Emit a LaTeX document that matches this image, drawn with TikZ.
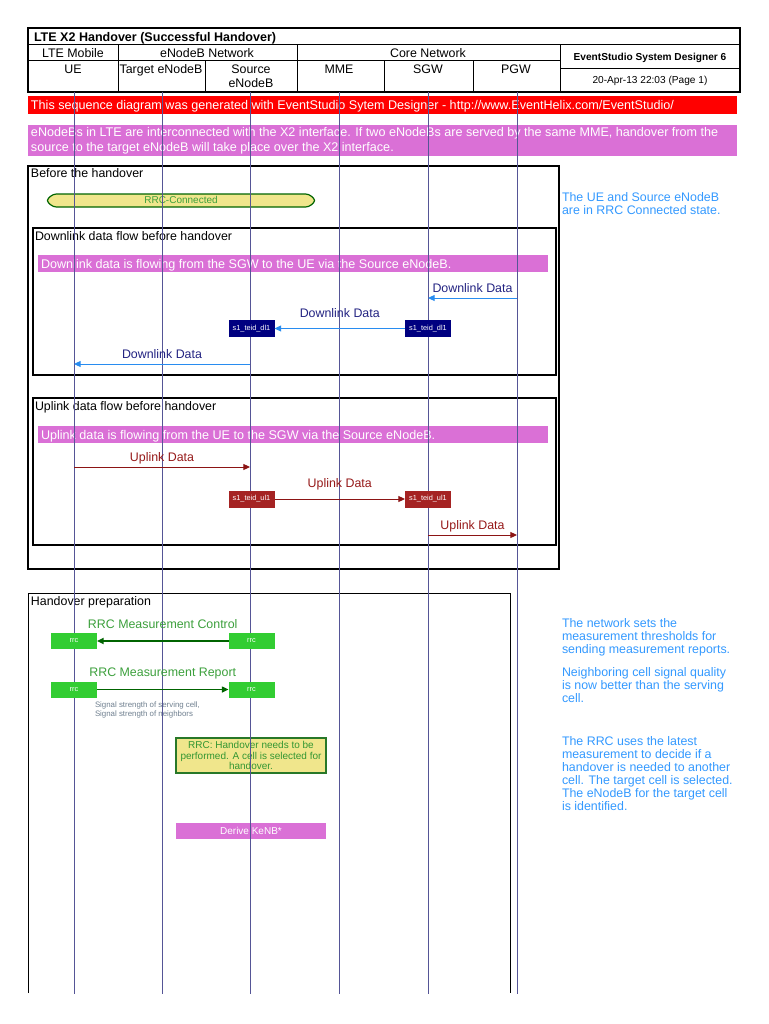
\documentclass[tikz,border=0pt]{standalone}
\usepackage{fontspec}
\setmainfont{Liberation Sans}
\usetikzlibrary{arrows.meta}
\definecolor{lifeln}{RGB}{85,85,150}
\definecolor{orch}{RGB}{218,112,214}
\definecolor{notebl}{RGB}{51,153,255}
\definecolor{dlline}{RGB}{40,140,240}
\definecolor{dllab}{RGB}{35,35,130}
\definecolor{dlbox}{RGB}{0,0,128}
\definecolor{ulline}{RGB}{140,20,20}
\definecolor{ullab}{RGB}{150,25,25}
\definecolor{ulbox}{RGB}{165,35,35}
\definecolor{rrcbox}{RGB}{50,205,50}
\definecolor{rrcline}{RGB}{0,100,0}
\definecolor{rrclab}{RGB}{60,160,60}
\definecolor{khak}{RGB}{240,230,140}
\definecolor{actborder}{RGB}{40,120,40}
\definecolor{acttext}{RGB}{50,150,50}
\definecolor{greytxt}{RGB}{112,128,144}
\begin{document}
\begin{tikzpicture}[x=0.75pt,y=-0.75pt,
  every node/.style={inner sep=0pt,outer sep=0pt},
  txt/.style={font=\fontsize{9.3}{9.75}\selectfont},
  hdr/.style={txt,anchor=base},
  note/.style={txt,text=notebl,align=left,anchor=north west},
  sectitle/.style={txt,anchor=base west},
  secbox/.style={draw=black,line width=1.5pt},
  lifeline/.style={draw=lifeln,line width=0.65pt},
  bannertxt/.style={font=\fontsize{9.45}{9.75}\selectfont,text=white,anchor=base west},
  dlmsg/.style={draw=dlline,line width=0.75pt,-{Triangle[length=5pt,width=4.5pt]}},
  ulmsg/.style={draw=ulline,line width=0.75pt,-{Triangle[length=5pt,width=4.5pt]}},
  rrcmsg/.style={draw=rrcline,line width=1pt,-{Triangle[length=5pt,width=4.5pt]}},
  dllabel/.style={txt,text=dllab,anchor=base},
  ullabel/.style={txt,text=ullab,anchor=base},
  rrclabel/.style={txt,text=rrclab,anchor=base},
  teidbox/.style={minimum width=34.5pt,minimum height=12.75pt,text=white,font=\fontsize{5.5}{6}\selectfont},
  rrcnode/.style={fill=rrcbox,minimum width=34.5pt,minimum height=12pt,text=white,font=\fontsize{5.5}{6}\selectfont},
]
\useasboundingbox (0,0) rectangle (768,1024);
\fill[white] (0,0) rectangle (768,1024);

% ---------- header table ----------
\draw[line width=0.9pt] (28,28) rectangle (740,92);
\draw[line width=0.75pt] (28,45) -- (740,45);
\draw[line width=0.75pt] (28,61) -- (560,61);
\draw[line width=0.75pt] (560,69) -- (740,69);
\draw[line width=0.75pt] (118,45) -- (118,92);
\draw[line width=0.75pt] (297,45) -- (297,92);
\draw[line width=0.75pt] (560,45) -- (560,92);
\draw[line width=0.75pt] (205,61) -- (205,92);
\draw[line width=0.75pt] (384,61) -- (384,92);
\draw[line width=0.75pt] (473,61) -- (473,92);
\node (title) [txt,anchor=base west,font=\fontsize{9.4}{10}\selectfont\bfseries] at (34,41.5) {LTE X2 Handover (Successful Handover)};
\node (grpmob) [hdr] at (73,57.5) {LTE Mobile};
\node (grpenb) [hdr] at (207,57.5) {eNodeB Network};
\node (grpcore) [hdr] at (428,57.5) {Core Network};
\node (tool) [anchor=base,font=\fontsize{7.6}{8}\selectfont\bfseries] at (650,60.5) {EventStudio System Designer 6};
\node (date) [anchor=base,font=\fontsize{7.6}{8}\selectfont] at (650,83.5) {20-Apr-13 22:03 (Page 1)};
\node (hUE) [hdr] at (73,73.5) {UE};
\node (hTgt) [hdr] at (161,73.5) {Target eNodeB};
\node (hSrc) [hdr] at (251,73.5) {Source};
\node (hSrc2) [hdr] at (251,87.5) {eNodeB};
\node (hMME) [hdr] at (339,73.5) {MME};
\node (hSGW) [hdr] at (428,73.5) {SGW};
\node (hPGW) [hdr] at (516,73.5) {PGW};

% ---------- banners ----------
\fill[red] (28,96) rectangle (737,114);
\node (redtxt) [bannertxt] at (31,109.5) {This sequence diagram was generated with EventStudio Sytem Designer - http://www.EventHelix.com/EventStudio/};
\fill[orch] (28,125) rectangle (737,156);
\node (x2txt) [bannertxt] at (31,136.5) {eNodeBs in LTE are interconnected with the X2 interface. If two eNodeBs are served by the same MME, handover from the};
\node (x2txt2) [bannertxt] at (31,151) {source to the target eNodeB will take place over the X2 interface.};

% ---------- before the handover ----------
\draw[secbox] (28,166) rectangle (559,569);
\node (sec1) [sectitle] at (31,177.5) {Before the handover};
\draw[fill=khak,draw=rrcline,line width=0.9pt,rounded corners=2.5pt]
  (46,200.5) -- (53,194) -- (309,194) -- (316,200.5) -- (309,207) -- (53,207) -- cycle;
\node (rrcconn) [anchor=base,text=rrclab,font=\fontsize{7.5}{8}\selectfont] at (181,203) {RRC-Connected};
\node (note1) [note] at (562,193) {The UE and Source eNodeB\\are in RRC Connected state.};

\draw[secbox] (33,228) rectangle (556,375);
\node (sec2) [sectitle] at (35,240.5) {Downlink data flow before handover};
\fill[orch] (38,255) rectangle (548,272);
\node (dltxt) [bannertxt] at (41,268) {Downlink data is flowing from the SGW to the UE via the Source eNodeB.};

\draw[secbox] (33,398) rectangle (556,545);
\node (sec3) [sectitle] at (35,410.5) {Uplink data flow before handover};
\fill[orch] (38,426) rectangle (548,443);
\node (ultxt) [bannertxt] at (41,439) {Uplink data is flowing from the UE to the SGW via the Source eNodeB.};

% ---------- handover preparation ----------
\draw[line width=0.75pt] (28,993) -- (28,593) -- (510,593) -- (510,993);
\node (sec4) [sectitle] at (31,605.5) {Handover preparation};
\node (sig) [anchor=north west,align=left,text=greytxt,font=\fontsize{5.9}{6.9}\selectfont] at (95,702) {Signal strength of serving cell,\\Signal strength of neighbors};
\node (act) [draw=actborder,fill=khak,line width=0.9pt,minimum width=112.5pt,minimum height=26.25pt,align=center,text=acttext,font=\fontsize{7.5}{7.7}\selectfont] at (251,755.5) {RRC: Handover needs to be\\performed. A cell is selected for\\handover.};
\node (kenb) [fill=orch,minimum width=112.5pt,minimum height=12pt,text=white,font=\fontsize{7.5}{8}\selectfont] at (251,831) {Derive KeNB*};

\node (note2) [note] at (562,619) {The network sets the\\measurement thresholds for\\sending measurement reports.};
\node (note3) [note] at (562,668) {Neighboring cell signal quality\\is now better than the serving\\cell.};
\node (note4) [note] at (562,737) {The RRC uses the latest\\measurement to decide if a\\handover is needed to another\\cell. The target cell is selected.\\The eNodeB for the target cell\\is identified.};

% ---------- lifelines ----------
\coordinate (ueT) at (74,92);   \coordinate (ueB) at (74,994);
\coordinate (tgtT) at (162,92); \coordinate (tgtB) at (162,994);
\coordinate (srcT) at (250,92); \coordinate (srcB) at (250,994);
\coordinate (mmeT) at (339,92); \coordinate (mmeB) at (339,994);
\coordinate (sgwT) at (428,92); \coordinate (sgwB) at (428,994);
\coordinate (pgwT) at (517,92); \coordinate (pgwB) at (517,994);
\foreach \a in {ue,tgt,src,mme,sgw,pgw}{\draw[lifeline] (\a T) -- (\a B);}

% ---------- downlink messages ----------
\coordinate (dlP) at (517,298);
\coordinate (dlS) at (428,298);
\draw[dlmsg] (dlP) -- node[dllabel,midway,yshift=4.1pt] (dll1) {Downlink Data} (dlS);
\node (teidD2) [teidbox,fill=dlbox] at (428,328.5) {s1\_teid\_dl1};
\node (teidD1) [teidbox,fill=dlbox] at (251.5,328.5) {s1\_teid\_dl1};
\draw[dlmsg] (teidD2.west) -- node[dllabel,midway,yshift=8.6pt] (dll2) {Downlink Data} (teidD1.east);
\coordinate (dlSrc) at (250,364);
\coordinate (dlUE) at (74,364);
\draw[dlmsg] (dlSrc) -- node[dllabel,midway,yshift=4.1pt] (dll3) {Downlink Data} (dlUE);

% ---------- uplink messages ----------
\coordinate (ulUE) at (74,467);
\coordinate (ulSrc) at (250,467);
\draw[ulmsg] (ulUE) -- node[ullabel,midway,yshift=4.3pt] (ull1) {Uplink Data} (ulSrc);
\node (teidU1) [teidbox,fill=ulbox] at (251.5,499) {s1\_teid\_ul1};
\node (teidU2) [teidbox,fill=ulbox] at (428,499) {s1\_teid\_ul1};
\draw[ulmsg] (teidU1.east) -- node[ullabel,midway,yshift=8.6pt] (ull2) {Uplink Data} (teidU2.west);
\coordinate (ulS) at (428,535);
\coordinate (ulP) at (517,535);
\draw[ulmsg] (ulS) -- node[ullabel,midway,yshift=4.3pt] (ull3) {Uplink Data} (ulP);

% ---------- RRC messages ----------
\node (rrcS1) [rrcnode] at (251.5,641) {rrc};
\node (rrcU1) [rrcnode] at (74,641) {rrc};
\draw[rrcmsg,line width=1.4pt] (rrcS1.west) -- node[rrclabel,midway,yshift=9.4pt] (mc) {RRC Measurement Control} (rrcU1.east);
\node (rrcU2) [rrcnode] at (74,689.5) {rrc};
\node (rrcS2) [rrcnode] at (251.5,689.5) {rrc};
\draw[rrcmsg] (rrcU2.east) -- node[rrclabel,midway,yshift=9.4pt] (mr) {RRC Measurement Report} (rrcS2.west);
\end{tikzpicture}
\end{document}
